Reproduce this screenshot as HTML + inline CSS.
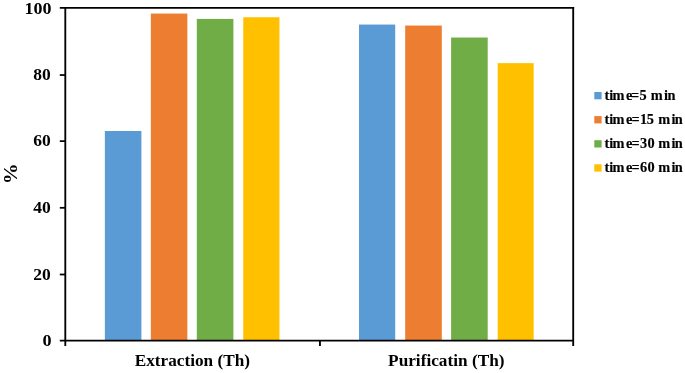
<!DOCTYPE html>
<html><head><meta charset="utf-8"><title>Chart</title>
<style>html,body{margin:0;padding:0;background:#fff;overflow:hidden}body{width:685px;height:373px;position:relative}</style>
</head><body>
<svg width="685" height="373" viewBox="0 0 685 373" style="position:absolute;left:0;top:0">
<rect x="0" y="0" width="685" height="373" fill="#ffffff"/>
<rect x="104.85" y="131.00" width="36.55" height="209.55" fill="#5b9bd5"/>
<rect x="150.85" y="13.58" width="36.50" height="326.97" fill="#ed7d31"/>
<rect x="196.80" y="18.91" width="36.60" height="321.64" fill="#70ad47"/>
<rect x="243.25" y="17.24" width="36.20" height="323.31" fill="#ffc000"/>
<rect x="359.00" y="24.56" width="36.20" height="315.99" fill="#5b9bd5"/>
<rect x="405.20" y="25.56" width="36.60" height="314.99" fill="#ed7d31"/>
<rect x="451.10" y="37.53" width="36.60" height="303.02" fill="#70ad47"/>
<rect x="497.70" y="63.14" width="36.00" height="277.41" fill="#ffc000"/>
<g stroke="#000" stroke-width="1.75" fill="none" stroke-linecap="butt">
<path d="M59.80 7.93 H574.12"/>
<path d="M59.80 340.55 H573.2"/>
<path d="M59.80 274.50 H65.3"/>
<path d="M59.80 207.80 H65.3"/>
<path d="M59.80 141.15 H65.3"/>
<path d="M59.80 75.05 H65.3"/>
</g>
<g stroke="#000" stroke-width="1.85" fill="none" stroke-linecap="butt">
<path d="M65.3 7.93 V345.95"/>
<path d="M573.2 7.05 V345.95"/>
<path d="M319.95 340.55 V345.95"/>
</g>
<g font-family="'Liberation Serif', serif" font-weight="bold" fill="#000">
<text x="51.5" y="346.25" font-size="16" text-anchor="end" textLength="9.1" lengthAdjust="spacingAndGlyphs">0</text>
<text x="50.8" y="280.00" font-size="16" text-anchor="end" textLength="17.5" lengthAdjust="spacingAndGlyphs">20</text>
<text x="50.8" y="213.40" font-size="16" text-anchor="end" textLength="17.5" lengthAdjust="spacingAndGlyphs">40</text>
<text x="50.8" y="146.05" font-size="16" text-anchor="end" textLength="17.5" lengthAdjust="spacingAndGlyphs">60</text>
<text x="50.8" y="79.95" font-size="16" text-anchor="end" textLength="17.5" lengthAdjust="spacingAndGlyphs">80</text>
<text x="51.5" y="13.63" font-size="16" text-anchor="end" textLength="27.0" lengthAdjust="spacingAndGlyphs">100</text>
<text x="192.4" y="365.8" font-size="16.4" text-anchor="middle" textLength="115.3" lengthAdjust="spacingAndGlyphs">Extraction (Th)</text>
<text x="446.3" y="365.8" font-size="16.4" text-anchor="middle" textLength="116.4" lengthAdjust="spacingAndGlyphs">Purificatin (Th)</text>
<text transform="translate(17.4 173.9) rotate(-90) scale(1.1 0.97)" font-size="19" text-anchor="middle">%</text>
<rect x="594.3" y="92.00" width="7.3" height="7.3" fill="#5b9bd5"/>
<text transform="translate(604.5 99.85) scale(0.92 1)" x="0.00 5.11 8.80 23.37 28.70 38.04 45.65 50.33 64.67 68.37" font-size="15.6" stroke="#000" stroke-width="0.15">time=5 min</text>
<rect x="594.3" y="116.10" width="7.3" height="7.3" fill="#ed7d31"/>
<text transform="translate(604.5 123.95) scale(0.92 1)" x="0.00 5.11 8.80 23.37 29.24 38.59 45.87 52.72 58.48 72.72 76.41" font-size="15.6" stroke="#000" stroke-width="0.15">time=15 min</text>
<rect x="594.3" y="140.20" width="7.3" height="7.3" fill="#70ad47"/>
<text transform="translate(604.5 148.05) scale(0.92 1)" x="0.00 5.11 8.80 23.37 29.24 38.59 46.74 53.59 58.48 72.83 76.41" font-size="15.6" stroke="#000" stroke-width="0.15">time=30 min</text>
<rect x="594.3" y="164.30" width="7.3" height="7.3" fill="#ffc000"/>
<text transform="translate(604.5 172.15) scale(0.92 1)" x="0.00 5.11 8.80 23.37 29.24 38.59 46.74 53.59 58.48 72.83 76.41" font-size="15.6" stroke="#000" stroke-width="0.15">time=60 min</text>
</g>
</svg>
</body></html>
